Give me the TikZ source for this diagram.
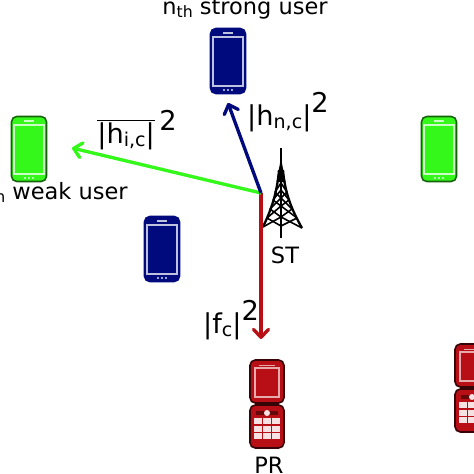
\documentclass[tikz,border=0pt]{standalone}
\usepackage{fontspec}
\setmainfont{DejaVu Sans}
\usetikzlibrary{arrows.meta}

\definecolor{userblue}{HTML}{000A7D}
\definecolor{usergreen}{HTML}{33F81A}
\definecolor{prred}{HTML}{B80F16}

\newcommand{\lowtext}[1]{\raisebox{-0.25ex}{\scalebox{0.7}{#1}}}
\newcommand{\hightext}[1]{\raisebox{0.85ex}{#1}}

\tikzset{
  link/.style={->,line width=1.9pt},
  biglabel/.style={font=\fontsize{15.5}{18}\selectfont,inner sep=0pt},
  namelabel/.style={font=\fontsize{12.8}{15}\selectfont,inner sep=0pt},
  % smartphone, centred, 36 wide and 66 high; #1 body, #2 outline
  pics/smartphone/.style n args={2}{code={
    \draw[fill=#1,draw=#2,line width=0.9pt,rounded corners=3] (-17.5,-32.5) rectangle (17.5,32.5);
    \draw[white!75!#1,line width=0.7pt] (-15,-24) rectangle (15,25);
    \draw[white!75!#1,line width=0.8pt] (-5,-28) -- (5,-28);
    \foreach \dotx in {-4,0,4} \fill[white!85!#1] (\dotx,29) circle (1.2);
  }},
  % flip phone, centred, 34 wide and 88 high
  pics/flipphone/.style={code={
    \draw[fill=prred,draw=black!70!prred,line width=0.9pt,rounded corners=3] (-17,1) rectangle (17,44);
    \draw[fill=prred,draw=black!70!prred,line width=0.9pt,rounded corners=3] (-17,-44) rectangle (17,-1);
    \draw[white!65!prred,line width=0.7pt] (-12,-36) rectangle (12,-7);
    \draw[white!65!prred,line width=0.9pt] (-8,-38.5) -- (8,-38.5);
    \fill[black!45!prred] (-11,7) rectangle (11,11);
    \foreach \rowy in {17,25,32}
      \foreach \colx in {-9,0,9}
        \fill[white!88!prred] (\colx-3.8,\rowy-3) rectangle (\colx+3.8,\rowy+3);
    \fill[white!88!prred] (0,9) circle (3);
  }},
}

\begin{document}
\begin{tikzpicture}[x=0.02cm,y=-0.02cm,>={Straight Barb[length=4.5pt,width=8.5pt,round]}]

\useasboundingbox (0,0) rectangle (474,474);
\clip (0,0) rectangle (474,474);

% Users
\pic at (228,61) {smartphone={userblue}{userblue}};
\pic at (162,249) {smartphone={userblue}{userblue}};
\pic at (29,149) {smartphone={usergreen}{black!60!usergreen}};
\pic at (439,149) {smartphone={usergreen}{black!60!usergreen}};

% Primary receivers
\pic at (267,404) {flipphone};
\pic at (472,388) {flipphone};

% Tower
\begin{scope}[line width=0.9pt]
\draw[line width=1.3pt] (281,148) -- (281,238);
\fill (281,158) -- (276.5,182) -- (285.5,182) -- cycle;
\draw[line width=1.3pt] (279,170) .. controls (277,195) and (270,212) .. (263,227);
\draw[line width=1.3pt] (283,170) .. controls (285,195) and (293,212) .. (302,228);
\draw (263,227) -- (281,217) -- (302,228);
\draw (267,218) -- (281,206) -- (297,218);
\draw (270,209) -- (281,198) -- (292,209);
\draw (273,200) -- (281,190) -- (289,200);
\draw (275,192) -- (281,183) -- (287,192);
\draw (267,218) -- (281,226) -- (297,218);
\draw (270,209) -- (281,217) -- (292,209);
\draw (273,200) -- (281,206) -- (289,200);
\draw (275,192) -- (281,198) -- (287,192);
\end{scope}

% Connector ends
\coordinate (st) at (261,193);
\coordinate (stronguser) at (228,103);
\coordinate (weakuser) at (72,148);
\coordinate (pr) at (261,339);

% Links
\draw[link,prred] (st) -- (pr);
\draw[link,usergreen] (st) -- (weakuser);
\draw[link,userblue] (st) -- (stronguser);

% Device labels
\node[namelabel] (stronglabel) at (245,9) {n\lowtext{th} strong user};
\node[namelabel,anchor=east] (weaklabel) at (128,192) {i\lowtext{th} weak user};
\node[namelabel] (stlabel) at (285,255) {ST};
\node[namelabel] (prlabel) at (269,465) {PR};

% Channel labels
\node[biglabel] (hnc) at (288,112) {|h\lowtext{n,c}|\hightext{2}};
\node[biglabel] (hic) at (137,130) {$\overline{\mbox{|h\lowtext{i,c}|}}$\,\hightext{2}};
\node[biglabel] (fc) at (231,320) {|f\lowtext{c}|\hightext{2}};

\end{tikzpicture}
\end{document}
